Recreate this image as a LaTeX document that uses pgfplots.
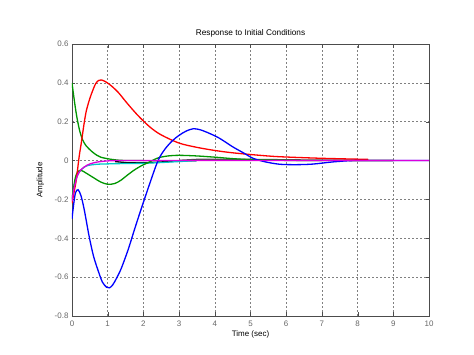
\documentclass[border=0pt]{standalone}
\usepackage{fontspec}
\setmainfont{Liberation Sans}
\usepackage{pgfplots}
\pgfplotsset{compat=1.18}
\definecolor{mred}{RGB}{255,0,0}
\definecolor{mgreen}{RGB}{0,150,0}
\definecolor{mblue}{RGB}{0,0,255}
\definecolor{mmag}{RGB}{220,0,220}
\definecolor{mcyan}{RGB}{0,200,200}
\definecolor{mgray}{RGB}{80,80,80}
\begin{document}
\begin{tikzpicture}
\useasboundingbox (-72bp,-39bp) rectangle (402bp,316bp);
\begin{axis}[
  scale only axis,
  width=357bp, height=272bp,
  xmin=0, xmax=10, ymin=-0.8, ymax=0.6,
  xtick={0,1,...,10},
  ytick={-0.8,-0.6,-0.4,-0.2,0,0.2,0.4,0.6},
  yticklabels={-0.8,-0.6,-0.4,-0.2,0,0.2,0.4,0.6},
  xticklabels={0,1,2,3,4,5,6,7,8,9,10},
  tick align=inside,
  major tick length=3.5bp,
  tick style={black!70},
  axis line style={black!70},
  grid=major,
  major grid style={black!50, dash pattern=on 1.6bp off 2.4bp, line width=0.6bp},
  tick label style={font=\fontsize{8}{9}\selectfont, text=black!60},
  xticklabel style={yshift=-1bp},
  title={Response to Initial Conditions},
  title style={font=\fontsize{8.3}{9}\selectfont, yshift=-3bp},
  xlabel={Time (sec)},
  ylabel={Amplitude},
  label style={font=\fontsize{8}{9}\selectfont},
  xlabel style={yshift=2bp},
  ylabel style={yshift=4bp},
  every axis plot/.append style={line width=1.3bp, no marks},
]
% dark gray
\addplot[mgray, line width=1.8bp] coordinates {(3.0,0.0) (3.6,0.006) (4.5,0.006) (5.5,0.004) (6.5,0.002) (8,0.001) (9,0)};
% black
\addplot[black] coordinates {(1.2,-0.005) (1.6,-0.012) (2.2,-0.01) (2.6,-0.006) (3.0,-0.002) (3.5,0)};
% cyan
\addplot[mcyan, smooth] coordinates {(0,-0.2) (0.05,-0.14) (0.1,-0.1) (0.2,-0.06) (0.3,-0.04) (0.43,-0.026) (0.7,-0.019) (1.0,-0.017) (1.5,-0.015) (2,-0.014) (2.5,-0.01) (3,-0.005) (3.5,0)};
% green 1
\addplot[mgreen, smooth] coordinates {(0,0.4) (0.05,0.33) (0.1,0.265) (0.15,0.21) (0.22,0.15) (0.3,0.106) (0.4,0.075) (0.56,0.046) (0.7,0.027) (0.81,0.017) (1.08,0.007) (1.4,0.001) (2,0)};
% green 2
\addplot[mgreen, smooth] coordinates {(0,-0.2) (0.08,-0.1) (0.15,-0.06) (0.25,-0.05) (0.4,-0.065) (0.62,-0.09) (0.8,-0.11) (1.0,-0.122) (1.2,-0.118) (1.38,-0.1) (1.55,-0.075) (1.75,-0.048) (1.95,-0.026) (2.13,-0.011) (2.3,0.005) (2.45,0.016) (2.7,0.024) (3.0,0.027) (3.48,0.024) (4.04,0.017) (4.5,0.01) (5,0.005) (6,0.001) (7,0)};
% red
\addplot[mred, smooth] coordinates {(0,-0.22) (0.05,-0.17) (0.12,-0.1) (0.2,0.02) (0.26,0.09) (0.33,0.18) (0.4,0.255) (0.5,0.32) (0.59,0.365) (0.66,0.395) (0.74,0.412) (0.82,0.415) (0.94,0.406) (1.1,0.385) (1.3,0.35) (1.5,0.305) (1.7,0.262) (1.9,0.222) (2.2,0.17) (2.5,0.132) (3.0,0.09) (3.5,0.068) (4.0,0.052) (4.5,0.04) (5.2,0.028) (5.8,0.02) (6.95,0.012) (8.3,0.006)};
% blue
\addplot[mblue, smooth] coordinates {(0,-0.3) (0.05,-0.22) (0.1,-0.165) (0.17,-0.15) (0.25,-0.18) (0.34,-0.25) (0.48,-0.39) (0.6,-0.49) (0.72,-0.56) (0.85,-0.625) (0.97,-0.652) (1.05,-0.655) (1.14,-0.64) (1.25,-0.605) (1.38,-0.555) (1.57,-0.46) (1.75,-0.355) (1.9,-0.27) (2.18,-0.117) (2.41,0.0) (2.6,0.058) (2.8,0.1) (3.0,0.13) (3.2,0.152) (3.4,0.164) (3.6,0.158) (3.85,0.14) (4.13,0.115) (4.5,0.071) (4.8,0.04) (5.07,0.012) (5.4,-0.006) (5.82,-0.019) (6.3,-0.021) (6.75,-0.018) (7.3,-0.007) (7.86,0) (8.5,0) (10,0)};
% magenta
\addplot[mmag, smooth] coordinates {(0,-0.21) (0.05,-0.15) (0.1,-0.11) (0.15,-0.078) (0.25,-0.047) (0.43,-0.023) (0.6,-0.012) (0.8,-0.005) (1.2,0) (2,0) (10,0)};
\end{axis}
\end{tikzpicture}
\end{document}
